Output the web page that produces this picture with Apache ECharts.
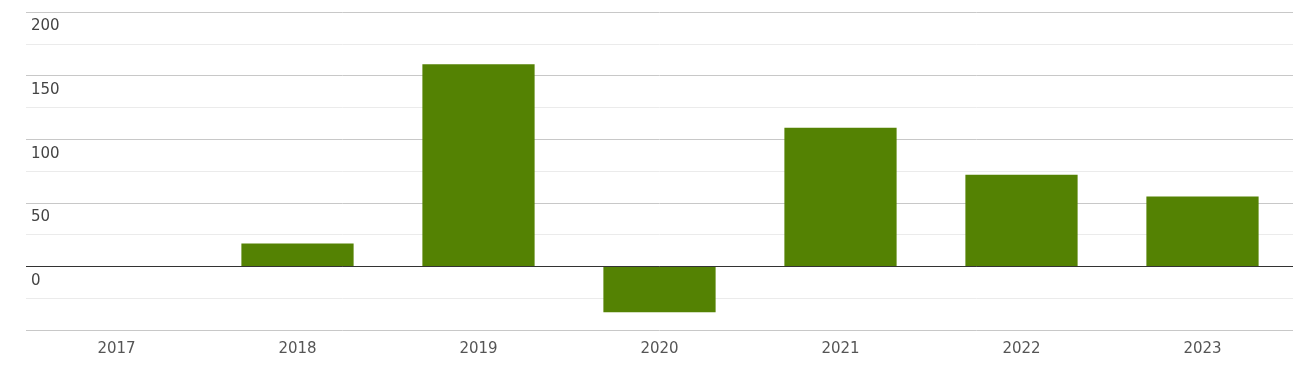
<!DOCTYPE html>
<html><head><meta charset="utf-8">
<script src="https://cdn.jsdelivr.net/npm/echarts@6/dist/echarts.min.js"></script>
<style>html,body{margin:0;padding:0;background:#fff}#c{width:1293px;height:384px}</style>
</head><body><div id="c"></div>
<script>
var categories = ['2017','2018','2019','2020','2021','2022','2023'];
var values = [0, 18, 159, -36, 109, 72, 55];
var yMin = -50, yMax = 200, yStep = 50;

var chart = echarts.init(document.getElementById('c'), null, {renderer:'canvas'});
chart.setOption({
  animation:false,
  grid:{left:26,right:0,top:12,bottom:54,containLabel:false},
  xAxis:{type:'category',data:categories,
    axisLine:{show:false,onZero:false},axisTick:{show:false},
    axisLabel:{color:'#555',fontSize:15,fontFamily:'DejaVu Sans',margin:12}},
  yAxis:{type:'value',min:yMin,max:yMax,interval:yStep,
    axisLine:{show:false},axisTick:{show:false},
    axisLabel:{inside:true,color:'#444',fontSize:15,fontFamily:'DejaVu Sans',margin:5,
      verticalAlign:'top',padding:[7,0,0,0],
      formatter:function(v){return v<0?'':String(v);}},
    splitLine:{lineStyle:{color:'#c8c8c8',width:1}},
    minorTick:{show:false,splitNumber:2},
    minorSplitLine:{show:true,lineStyle:{color:'#ebebeb',width:1}}},
  series:[{type:'bar',data:values,barWidth:'62%',
    itemStyle:{color:'#548203'},
    markLine:{silent:true,symbol:'none',label:{show:false},
      lineStyle:{color:'#333',width:1,type:'solid'},data:[{yAxis:0}]}}]
});
</script></body></html>
